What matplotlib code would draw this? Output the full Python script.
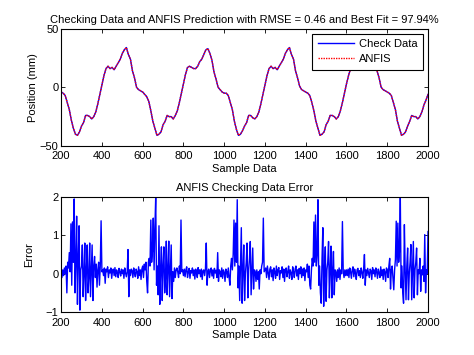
import numpy as np
import matplotlib
matplotlib.use("Agg")
import matplotlib.pyplot as plt

plt.rcParams['font.family'] = ['Liberation Sans', 'DejaVu Sans']

# ---------------- data ----------------
pos_start, pos_step = 200, 10
check_data = [
    # 200-590
    -4, -5, -7, -13, -19, -28, -35, -40, -41, -38, -33, -30, -24, -24, -25, -27, -25, -21, -14, -6,
    2, 10, 16, 18, 16, 17, 15, 18, 21, 24, 29, 32, 34, 28, 24, 14, 8, 0, -2, -3,
    # 600-990
    -4, -6, -8, -12, -20, -29, -35, -41, -40, -38, -32, -29, -24, -25, -25, -27, -24, -20, -13, -5,
    3, 11, 17, 18, 17, 16, 16, 18, 22, 24, 28, 32, 33, 29, 23, 13, 7, 0, -2, -4,
    # 1000-1390
    -5, -5, -7, -13, -19, -29, -36, -41, -40, -37, -33, -30, -24, -24, -26, -27, -25, -21, -14, -6,
    2, 10, 16, 18, 16, 17, 15, 18, 21, 24, 29, 32, 34, 28, 24, 14, 8, 1, -2, -3,
    # 1400-1790
    -4, -5, -7, -13, -20, -29, -35, -41, -40, -38, -32, -29, -24, -24, -25, -27, -25, -20, -13, -5,
    3, 10, 16, 18, 17, 17, 15, 18, 21, 23, 29, 32, 33, 28, 24, 14, 8, 0, -2, -3,
    # 1800-2000
    -4, -5, -7, -13, -19, -29, -35, -41, -40, -38, -33, -29, -24, -25, -25, -27, -25, -21, -15, -11, -6,
]
anfis_pred = list(check_data)

err_step = 4
# (start sample, values) for each stretch of the error trace
err_burst1 = (200, [0.05, -0.1, 0.1, -0.05, 0.15, 0.0, 0.2, -0.5, 0.3, 0.15, 0.55, 0.05, 1.3, -0.3, 1.35, 0.3,
                    1.95, -0.5, 0.3, 1.5, -0.8, 0.4, 1.25, -0.95, 0.1, 0.2, 0.75, -0.6, 0.0, 0.8, -0.7, 0.1,
                    0.75, -0.5, -0.1, 0.8, -0.6, 0.1, 0.75, -0.7, 0.2, 0.45, -0.1, 0.25, -0.35, 0.1, 0.3,
                    -0.3, 0.2, 1.38, 0.05])
err_quiet1 = (404, [0.1, -0.05, 0.15, -0.25, 0.12, 0.05, 0.18, -0.1, 0.1, 0.02, 0.15, -0.12, 0.08, 0.12, -0.05,
                    0.16, -0.08, 0.1, 0.03, -0.1, 0.14, 0.05, -0.06, 0.12, 0.0, 0.1, -0.12, 0.15, 0.02, -0.08,
                    0.05, 0.63, -0.6, 0.1, -0.05, 0.12, 0.08, -0.1, 0.15, 0.02, -0.08, 0.12, 0.05, -0.12, 0.18,
                    -0.05, 0.1, -0.15, 0.12, 0.2, -0.1, 0.25, 0.1, 0.3, -0.2])
err_burst2 = (624, [-0.5, 0.3, 0.4, 0.2, 1.4, 0.3, 0.6, 1.45, 0.1, 1.2, 2.0, -0.3, 0.2, -0.55, 1.25, -0.8, 0.1,
                    0.7, -0.7, 0.2, 0.7, -0.5, -0.1, 0.85, -0.55, 0.1, 0.85, -0.6, 0.1, 0.75, -0.65, 0.05,
                    -0.2, 0.15, -0.1, 0.1, 0.15, 0.05, -0.1, 0.2, 0.0, 1.4, 0.05, 0.1, -0.05])
err_quiet2 = (804, [0.12, -0.08, 0.1, 0.18, -0.1, 0.05, 0.14, -0.12, 0.08, 0.02, 0.15, -0.05, 0.1, -0.14, 0.12,
                    0.04, -0.1, 0.16, 0.0, 0.1, -0.08, 0.12, -0.15, 0.08, 0.1, -0.05, 0.13, 0.8, -0.3, 0.05,
                    0.12, -0.1, 0.08, 0.15, -0.06, 0.1, -0.12, 0.14, 0.02, 0.09, -0.1, 0.55, -0.2, 0.1, 0.05,
                    -0.08, 0.15, -0.12, 0.1, 0.04, -0.2, 0.12, 0.05, -0.1, 0.15])
err_burst3 = (1024, [-0.1, -0.3, 0.2, 0.4, 0.1, 0.5, 1.4, 0.2, 1.32, 0.3, 1.93, -0.37, 0.2, -0.7, 0.3, 1.2,
                     -0.77, 0.1, 0.75, -0.7, 0.0, 0.3, 0.8, -0.63, 0.1, 0.4, 0.84, -0.55, 0.1, 0.67, -0.4,
                     0.1, 0.06, -0.2, 0.1, -0.15, 0.05, -0.4, 0.1, 0.0, 0.2, 0.3, 1.45, 0.05, 0.1])
err_quiet3 = (1204, [0.15, -0.1, 0.2, 0.02, -0.15, 0.12, 0.18, -0.08, 0.1, -0.18, 0.15, 0.05, -0.12, 0.2, -0.05,
                     0.1, 0.16, -0.15, 0.08, 0.02, 0.18, -0.1, 0.12, -0.2, 0.1, 0.15, -0.08, 0.05, 0.2, -0.12,
                     0.1, 0.02, -0.15, 0.18, 0.05, -0.1, 0.12, 0.2, -0.06, 0.1, -0.15, 0.14, 0.0, 0.18, -0.1,
                     0.12, -0.05, 0.15, -0.18, 0.1, 0.05, 0.25, -0.1, 0.2, -0.3])
err_burst4 = (1424, [-0.4, 0.1, 0.4, 0.2, 1.35, 0.3, 1.53, 0.2, 0.5, 1.93, -0.3, 0.2, -0.5, -0.77, 0.4, 1.2,
                     -0.85, 0.1, 0.7, -0.72, 0.1, 0.3, 0.84, -0.63, 0.1, 0.72, -0.63, 0.1, 0.58, -0.55, 0.1,
                     0.05, -0.2, 0.1, -0.1, 0.15, -0.15, 0.1, 0.0, 1.36, 0.05, -0.1, 0.1, -0.05, 0.1])
err_quiet4 = (1604, [-0.05, 0.12, -0.1, 0.15, 0.05, -0.12, 0.1, 0.18, -0.08, 0.12, 0.02, -0.15, 0.1, 0.14,
                     -0.05, 0.08, -0.1, 0.15, 0.04, -0.12, 0.12, 0.5, -0.3, 0.1, -0.05, 0.14, 0.02, -0.1,
                     0.12, 0.08, -0.15, 0.16, 0.0, 0.1, -0.08, 0.15, 0.05, -0.12, 0.12, 0.02, -0.1, 0.18,
                     -0.05, 0.1, -0.15, 0.12, 0.05, -0.2, 0.15, 0.1, -0.1, 0.2, 0.4, -0.4, 0.1, 0.2, -0.1])
err_burst5 = (1832, [-0.42, 0.1, 0.37, 1.37, 0.2, 1.32, 0.3, 0.6, 2.0, -0.37, 0.2, -0.5, -0.77, 1.28, 0.1,
                     -0.68, 0.2, 0.67, -0.68, 0.0, 0.3, 0.76, -0.68, 0.1, 0.84, -0.63, 0.1, 0.3, 0.67, -0.55,
                     0.1, 0.0, 0.4, -0.46, 0.1, -0.03, 0.2, -0.2, 1.02, -0.5, 0.1, 0.0, 1.1])
err_segments = [err_burst1, err_quiet1, err_burst2, err_quiet2, err_burst3,
                err_quiet3, err_burst4, err_quiet4, err_burst5]

title_top = "Checking Data and ANFIS Prediction with RMSE = 0.46 and Best Fit = 97.94%"
title_bottom = "ANFIS Checking Data Error"
xlabel = "Sample Data"
ylabel_top = "Position (mm)"
ylabel_bottom = "Error"
x_ticks = [200, 400, 600, 800, 1000, 1200, 1400, 1600, 1800, 2000]

# ---------------- build series ----------------
pos_x = pos_start + pos_step * np.arange(len(check_data))
err_x, err_y = [], []
for start, vals in err_segments:
    err_x.extend(start + err_step * np.arange(len(vals)))
    err_y.extend(vals)

fs = 8.0
fig = plt.figure(figsize=(4.74, 3.55), dpi=100)
ax1 = fig.add_axes([0.129, 0.589, 0.774, 0.330])
ax2 = fig.add_axes([0.129, 0.121, 0.774, 0.324])

ax1.plot(pos_x, check_data, color='#0000ff', lw=1.0, label='Check Data')
ax1.plot(pos_x, anfis_pred, color='#ff0000', lw=1.0, ls=(0, (1, 0.8)), label='ANFIS')
ax1.set_xlim(200, 2000)
ax1.set_ylim(-50, 50)
ax1.set_yticks([-50, 0, 50])
ax1.set_title(title_top, fontsize=fs, pad=4)
ax1.set_xlabel(xlabel, fontsize=fs, labelpad=2)
ax1.set_ylabel(ylabel_top, fontsize=fs, labelpad=1)
leg = ax1.legend(loc='upper right', fontsize=fs, frameon=True, fancybox=False,
                 edgecolor='black', framealpha=1, handlelength=3.3, handletextpad=0.4,
                 borderaxespad=0.45, borderpad=0.5, labelspacing=0.45)
leg.get_frame().set_linewidth(0.8)

ax2.plot(err_x, err_y, color='#0000ff', lw=1.0)
ax2.set_xlim(200, 2000)
ax2.set_ylim(-1, 2)
ax2.set_yticks([-1, 0, 1, 2])
ax2.set_title(title_bottom, fontsize=fs, pad=4)
ax2.set_xlabel(xlabel, fontsize=fs, labelpad=2)
ax2.set_ylabel(ylabel_bottom, fontsize=fs, labelpad=8)

for ax in (ax1, ax2):
    ax.set_xticks(x_ticks)
    ax.tick_params(direction='in', top=True, right=True, labelsize=fs, length=3, width=0.6)
    ax.tick_params(axis='x', pad=4)
    ax.tick_params(axis='y', pad=2)
    for s in ax.spines.values():
        s.set_linewidth(0.8)

fig.savefig("out.png", dpi=100)
